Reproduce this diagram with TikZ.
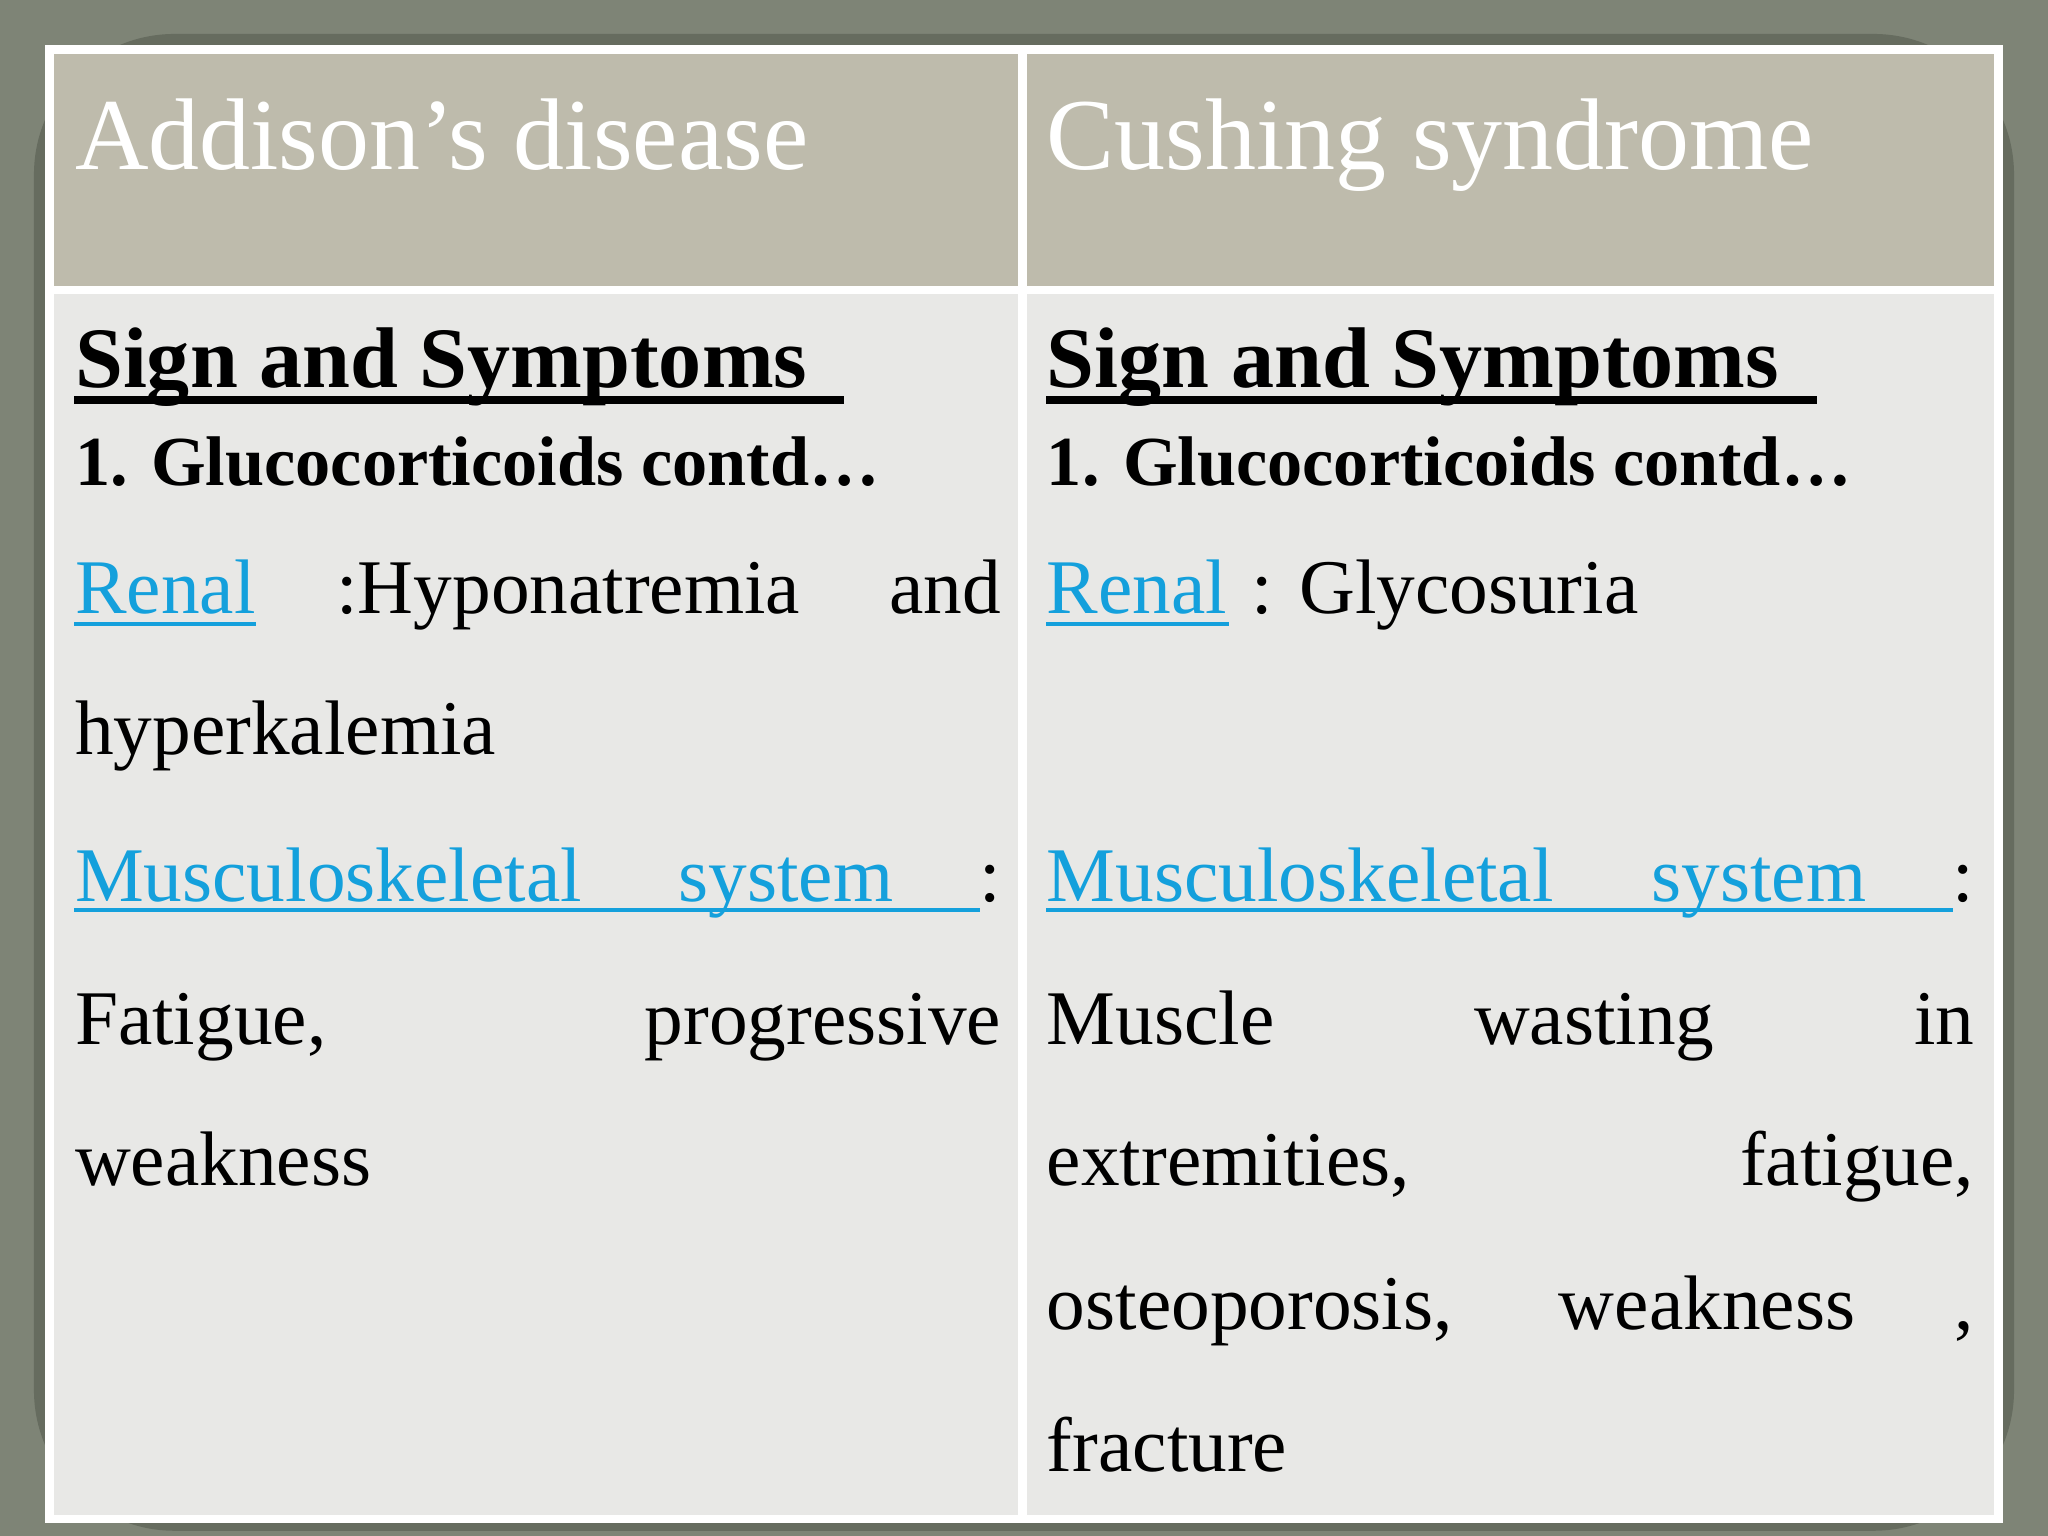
\documentclass[tikz,border=0pt]{standalone}
\usepackage{fontspec}
\setmainfont{Liberation Serif}
\definecolor{bgc}{HTML}{7E8476}
\definecolor{frm}{HTML}{666C5F}
\definecolor{hdr}{HTML}{BEBBAC}
\definecolor{bdy}{HTML}{E8E8E6}
\definecolor{lnk}{HTML}{14A0DC}
\tikzset{t/.style={anchor=base west,inner sep=0pt,font=\fontsize{22}{22}\selectfont},
 tr/.style={anchor=base east,inner sep=0pt,font=\fontsize{22}{22}\selectfont},
 hd/.style={anchor=base west,inner sep=0pt,text=white,font=\fontsize{29}{29}\selectfont},
 sg/.style={anchor=base west,inner sep=0pt,font=\bfseries\fontsize{24.5}{24.5}\selectfont},
 gl/.style={anchor=base west,inner sep=0pt,font=\bfseries\fontsize{20}{20}\selectfont},
 lk/.style={t,text=lnk},
 ul/.style={line width=1.2pt},
 cellline/.style={white,line width=2.5pt}}
\begin{document}
\begin{tikzpicture}[x=0.013061cm,y=-0.013061cm]
\useasboundingbox (0,0) rectangle (1568,1176);
\fill[bgc] (0,0) rectangle (1568,1176);
\fill[frm,rounded corners=40] (26,26) rectangle (1542,1172);
\fill[hdr] (38,38) rectangle (1530,222);
\fill[bdy] (38,222) rectangle (1530,1163);
\draw[cellline] (38,38) rectangle (1530,1163);
\draw[cellline] (38,222) -- (1530,222);
\draw[cellline] (783,38) -- (783,1163);
% headers
\node[hd] (h1) at (57,130) {Addison's disease};
\node[hd] (h2) at (801,130) {Cushing syndrome};
% left column
\node[sg] (s1) at (57,297) {Sign and Symptoms};
\draw[line width=2.2pt] (57,306) -- (646,306);
\node[gl] (g1) at (57,372) {1. Glucocorticoids contd…};
\node[lk] (r1) at (57,470) {Renal};
\draw[lnk,ul] (57,478) -- (196,478);
\node[t] (r1b) at (257,470) {:Hyponatremia};
\node[tr] (r1c) at (767,470) {and};
\node[t] (l2) at (57,578) {hyperkalemia};
\node[lk] (m1) at (57,690) {Musculoskeletal};
\node[lk] (m1b) at (519,690) {system};
\draw[lnk,ul] (57,697) -- (750,697);
\node[tr] (m1c) at (767,690) {:};
\node[t] (f1) at (57,800) {Fatigue,};
\node[tr] (f1b) at (767,800) {progressive};
\node[t] (w1) at (57,908) {weakness};
% right column
\node[sg] (s2) at (801,297) {Sign and Symptoms};
\draw[line width=2.2pt] (801,306) -- (1391,306);
\node[gl] (g2) at (801,372) {1. Glucocorticoids contd…};
\node[lk] (r2) at (801,470) {Renal};
\draw[lnk,ul] (801,478) -- (941,478);
\node[t] (r2b) at (958,470) {: Glycosuria};
\node[lk] (m2) at (801,690) {Musculoskeletal};
\node[lk] (m2b) at (1264,690) {system};
\draw[lnk,ul] (801,697) -- (1495,697);
\node[tr] (m2c) at (1512,690) {:};
\node[t] (c1) at (801,800) {Muscle};
\node[t] (c2) at (1128,800) {wasting};
\node[tr] (c3) at (1512,800) {in};
\node[t] (c4) at (801,908) {extremities,};
\node[tr] (c5) at (1512,908) {fatigue,};
\node[t] (c6) at (801,1018) {osteoporosis,};
\node[t] (c7) at (1193,1018) {weakness};
\node[tr] (c8) at (1512,1018) {,};
\node[t] (c9) at (801,1127) {fracture};
\end{tikzpicture}
\end{document}
